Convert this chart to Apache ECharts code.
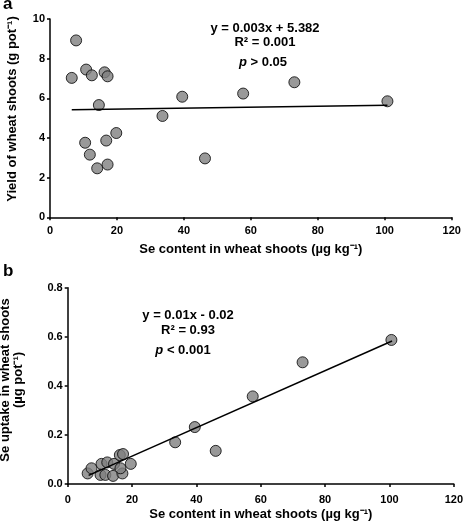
<!DOCTYPE html>
<html><head><meta charset="utf-8">
<script src="https://cdn.jsdelivr.net/npm/echarts@6/dist/echarts.min.js"></script>
<style>html,body{margin:0;padding:0;background:#fff}#c{width:466px;height:525px}</style>
</head><body><div id="c"></div>
<script>
// Panel a: Se content vs yield
var seContentA = [6.5, 7.8, 10.8, 12.5, 16.3, 17.2, 14.6, 10.5, 11.9, 14.1, 16.8, 17.2, 19.8, 33.6, 39.5, 46.3, 57.7, 73.0, 100.8];
var yieldA     = [7.03, 8.92, 7.45, 7.16, 7.31, 7.11, 5.66, 3.76, 3.16, 2.47, 3.87, 2.66, 4.25, 5.11, 6.08, 2.97, 6.24, 6.81, 5.85];
var trendA = [[6.5, 5.42], [100.8, 5.65]];
// Panel b: Se content vs uptake
var seContentB = [6.2, 7.4, 10.5, 10.2, 12.3, 11.7, 14.1, 14.4, 16.2, 17.2, 17.0, 16.4, 19.6, 33.4, 39.5, 46.0, 57.5, 73.0, 100.6];
var uptakeB    = [0.043, 0.064, 0.082, 0.037, 0.088, 0.037, 0.033, 0.082, 0.118, 0.122, 0.043, 0.064, 0.082, 0.170, 0.232, 0.135, 0.357, 0.496, 0.587];
var trendB = [[6.5, 0.035], [100.8, 0.583]];
var xTicks = [0, 20, 40, 60, 80, 100, 120];
var yTicksA = [0, 2, 4, 6, 8, 10];
var yTicksB = [0, 0.2, 0.4, 0.6, 0.8];

var F = 'Liberation Sans, Arial, sans-serif';
function pairs(xs, ys){ return xs.map(function(x,i){return [x, ys[i]];}); }
var axisLine = {lineStyle:{color:'#000', width:1.5}};
var axisTick = {show:true, length:3, inside:false, lineStyle:{color:'#000', width:1.5}};
var lbl = {color:'#000', fontFamily:F, fontWeight:'bold', fontSize:11};
var nameStyle = {color:'#000', fontFamily:F, fontWeight:'bold', fontSize:13};
var marker = {color:'#808080', borderColor:'#000', borderWidth:1};
var T = 'bold 13px ' + F;

var chart = echarts.init(document.getElementById('c'));
chart.setOption({
  animation:false,
  grid:[
    {left:50, top:19, width:401.7, height:198.3},
    {left:67.7, top:287.7, width:388.3, height:196.3}
  ],
  xAxis:[
    {gridIndex:0, type:'value', min:xTicks[0], max:xTicks[xTicks.length-1], interval:20,
     axisLine:axisLine, axisTick:axisTick, splitLine:{show:false},
     axisLabel:Object.assign({margin:8}, lbl),
     name:'Se content in wheat shoots (µg kg⁻¹)', nameLocation:'middle', nameGap:26, nameTextStyle:nameStyle},
    {gridIndex:1, type:'value', min:xTicks[0], max:xTicks[xTicks.length-1], interval:20,
     axisLine:axisLine, axisTick:axisTick, splitLine:{show:false},
     axisLabel:Object.assign({margin:10}, lbl),
     name:'Se content in wheat shoots (µg kg⁻¹)', nameLocation:'middle', nameGap:24, nameTextStyle:nameStyle}
  ],
  yAxis:[
    {gridIndex:0, type:'value', min:yTicksA[0], max:yTicksA[yTicksA.length-1], interval:2,
     axisLine:Object.assign({show:true}, axisLine), axisTick:axisTick, splitLine:{show:false},
     axisLabel:Object.assign({margin:5}, lbl)},
    {gridIndex:1, type:'value', min:yTicksB[0], max:yTicksB[yTicksB.length-1], interval:0.2,
     axisLine:Object.assign({show:true}, axisLine), axisTick:axisTick, splitLine:{show:false},
     axisLabel:Object.assign({margin:5, formatter:function(v){return v.toFixed(1);}}, lbl)}
  ],
  series:[
    {type:'line', xAxisIndex:0, yAxisIndex:0, data:trendA, symbol:'none', lineStyle:{color:'#000', width:1.5}, silent:true},
    {type:'scatter', xAxisIndex:0, yAxisIndex:0, data:pairs(seContentA, yieldA), symbolSize:11, itemStyle:marker},
    {type:'line', xAxisIndex:1, yAxisIndex:1, data:trendB, symbol:'none', lineStyle:{color:'#000', width:1.5}, silent:true},
    {type:'scatter', xAxisIndex:1, yAxisIndex:1, data:pairs(seContentB, uptakeB), symbolSize:11, itemStyle:marker}
  ],
  graphic:[
    {type:'text', left:3, top:-4, style:{text:'a', font:'bold 17px '+F, fill:'#000'}},
    {type:'text', left:3, top:263, style:{text:'b', font:'bold 17px '+F, fill:'#000'}},
    {type:'text', x:12, y:109, rotation:Math.PI/2, style:{text:'Yield of wheat shoots (g pot⁻¹)', font:T, fill:'#000', align:'center', verticalAlign:'middle'}},
    {type:'text', x:5, y:380, rotation:Math.PI/2, style:{text:'Se uptake in wheat shoots', font:T, fill:'#000', align:'center', verticalAlign:'middle'}},
    {type:'text', x:18, y:380, rotation:Math.PI/2, style:{text:'(µg pot⁻¹)', font:T, fill:'#000', align:'center', verticalAlign:'middle'}},
    {type:'text', x:265, y:28, style:{text:'y = 0.003x + 5.382', font:T, fill:'#000', align:'center', verticalAlign:'middle'}},
    {type:'text', x:265, y:42, style:{text:'R² = 0.001', font:T, fill:'#000', align:'center', verticalAlign:'middle'}},
    {type:'text', x:263, y:62, style:{text:'{i|p} > 0.05', font:T, fill:'#000', align:'center', verticalAlign:'middle',
      rich:{i:{fontStyle:'italic', fontWeight:'bold', fontSize:13, fontFamily:F}}}},
    {type:'text', x:188, y:315, style:{text:'y = 0.01x - 0.02', font:T, fill:'#000', align:'center', verticalAlign:'middle'}},
    {type:'text', x:188, y:330, style:{text:'R² = 0.93', font:T, fill:'#000', align:'center', verticalAlign:'middle'}},
    {type:'text', x:183, y:350, style:{text:'{i|p} < 0.001', font:T, fill:'#000', align:'center', verticalAlign:'middle',
      rich:{i:{fontStyle:'italic', fontWeight:'bold', fontSize:13, fontFamily:F}}}}
  ]
});
</script></body></html>
